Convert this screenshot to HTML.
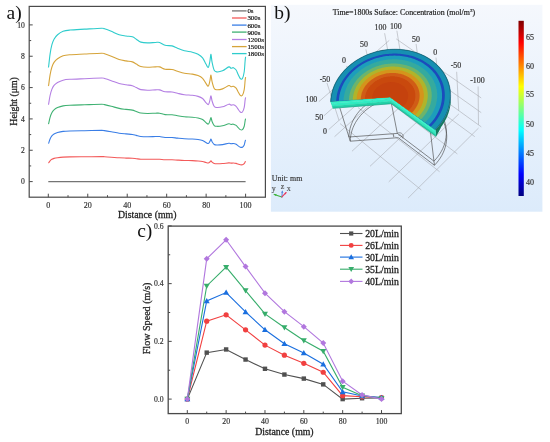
<!DOCTYPE html><html><head><meta charset="utf-8"><style>html,body{margin:0;padding:0;background:#fff;width:550px;height:442px;overflow:hidden}svg{display:block;will-change:transform}text{font-family:"Liberation Serif",serif}</style></head><body>
<svg width="550" height="442" viewBox="0 0 550 442">
<path d="M48.30,181.60 L245.60,181.60" fill="none" stroke="#747474" stroke-width="1.45"/>
<path d="M48.30,162.95 C48.37,162.92 48.40,163.11 48.69,162.75 C48.99,162.39 49.55,161.38 50.08,160.81 C50.60,160.24 51.19,159.73 51.85,159.33 C52.51,158.92 53.07,158.66 54.02,158.38 C54.98,158.11 56.06,157.88 57.57,157.67 C59.09,157.45 61.06,157.23 63.10,157.11 C65.14,156.98 66.22,156.96 69.81,156.90 C73.39,156.84 79.31,156.80 84.60,156.75 C89.90,156.70 98.25,156.60 101.57,156.59 C104.89,156.59 102.92,156.61 104.53,156.71 C106.14,156.80 108.81,156.99 111.24,157.18 C113.67,157.36 116.66,157.66 119.13,157.81 C121.60,157.96 123.83,158.01 126.04,158.08 C128.24,158.16 130.64,158.17 132.35,158.27 C134.06,158.37 134.88,158.54 136.30,158.69 C137.71,158.84 138.96,159.08 140.83,159.18 C142.71,159.28 145.11,159.30 147.54,159.31 C149.98,159.32 153.43,159.24 155.43,159.23 C157.44,159.22 157.97,159.16 159.58,159.23 C161.19,159.31 163.03,159.60 165.10,159.69 C167.17,159.78 169.94,159.69 172.01,159.76 C174.08,159.83 175.46,159.99 177.53,160.11 C179.60,160.23 181.97,160.38 184.44,160.47 C186.90,160.56 190.06,160.57 192.33,160.65 C194.60,160.73 196.34,160.80 198.05,160.94 C199.76,161.08 201.27,161.23 202.59,161.49 C203.90,161.75 204.99,162.23 205.94,162.48 C206.90,162.73 207.65,163.08 208.31,163.00 C208.97,162.91 209.44,162.34 209.89,161.99 C210.33,161.63 210.61,160.83 210.97,160.86 C211.34,160.89 211.52,161.70 212.06,162.14 C212.60,162.57 213.41,163.20 214.23,163.47 C215.05,163.73 215.61,163.71 216.99,163.72 C218.37,163.73 220.54,163.68 222.52,163.54 C224.49,163.41 227.42,162.97 228.83,162.90 C230.24,162.84 230.24,163.11 231.00,163.13 C231.76,163.15 232.51,162.98 233.37,163.03 C234.22,163.08 235.37,163.24 236.13,163.41 C236.89,163.58 237.21,163.82 237.91,164.05 C238.60,164.28 239.52,164.67 240.27,164.79 C241.03,164.92 241.79,164.98 242.44,164.79 C243.10,164.61 243.77,164.17 244.22,163.69 C244.66,163.22 244.88,162.34 245.11,161.93 C245.34,161.52 245.52,161.36 245.60,161.24" fill="none" stroke="#f35a5a" stroke-width="1.1" stroke-linejoin="round"/>
<path d="M48.30,143.39 C48.37,143.32 48.40,143.71 48.69,142.97 C48.99,142.24 49.55,140.17 50.08,139.00 C50.60,137.83 51.19,136.79 51.85,135.96 C52.51,135.13 53.07,134.59 54.02,134.02 C54.98,133.46 56.06,133.00 57.57,132.56 C59.09,132.12 61.06,131.67 63.10,131.41 C65.14,131.15 66.22,131.11 69.81,130.99 C73.39,130.87 79.31,130.78 84.60,130.68 C89.90,130.57 98.25,130.37 101.57,130.36 C104.89,130.35 102.92,130.38 104.53,130.61 C106.14,130.84 108.81,131.30 111.24,131.73 C113.67,132.17 116.66,132.85 119.13,133.21 C121.60,133.58 123.83,133.72 126.04,133.92 C128.24,134.13 130.64,134.20 132.35,134.45 C134.06,134.70 134.88,135.07 136.30,135.40 C137.71,135.73 138.96,136.21 140.83,136.43 C142.71,136.64 145.11,136.67 147.54,136.69 C149.98,136.71 153.43,136.56 155.43,136.53 C157.44,136.51 157.97,136.38 159.58,136.53 C161.19,136.69 163.03,137.31 165.10,137.48 C167.17,137.64 169.94,137.42 172.01,137.53 C174.08,137.65 175.46,137.95 177.53,138.16 C179.60,138.37 181.97,138.65 184.44,138.80 C186.90,138.95 190.06,138.92 192.33,139.05 C194.60,139.17 196.34,139.29 198.05,139.54 C199.76,139.79 201.27,140.06 202.59,140.56 C203.90,141.06 204.99,142.02 205.94,142.52 C206.90,143.01 207.65,143.70 208.31,143.52 C208.97,143.33 209.44,142.15 209.89,141.41 C210.33,140.68 210.61,139.05 210.97,139.10 C211.34,139.15 211.52,140.83 212.06,141.72 C212.60,142.61 213.41,143.90 214.23,144.44 C215.05,144.98 215.61,144.94 216.99,144.96 C218.37,144.99 220.54,144.88 222.52,144.60 C224.49,144.32 227.42,143.43 228.83,143.29 C230.24,143.15 230.24,143.72 231.00,143.76 C231.76,143.80 232.51,143.45 233.37,143.55 C234.22,143.65 235.37,143.99 236.13,144.34 C236.89,144.68 237.21,145.17 237.91,145.64 C238.60,146.11 239.52,146.91 240.27,147.16 C241.03,147.41 241.79,147.54 242.44,147.16 C243.10,146.79 243.77,145.89 244.22,144.91 C244.66,143.93 244.88,142.14 245.11,141.30 C245.34,140.46 245.52,140.12 245.60,139.89" fill="none" stroke="#3a7ee6" stroke-width="1.1" stroke-linejoin="round"/>
<path d="M48.30,123.95 C48.37,123.84 48.40,124.42 48.69,123.32 C48.99,122.21 49.55,119.08 50.08,117.31 C50.60,115.55 51.19,113.98 51.85,112.73 C52.51,111.48 53.07,110.67 54.02,109.81 C54.98,108.95 56.06,108.26 57.57,107.60 C59.09,106.94 61.06,106.26 63.10,105.86 C65.14,105.47 66.22,105.41 69.81,105.23 C73.39,105.05 79.31,104.91 84.60,104.76 C89.90,104.60 98.25,104.30 101.57,104.28 C104.89,104.26 102.92,104.32 104.53,104.65 C106.14,104.98 108.81,105.63 111.24,106.26 C113.67,106.88 116.66,107.88 119.13,108.40 C121.60,108.92 123.83,109.10 126.04,109.39 C128.24,109.67 130.64,109.75 132.35,110.11 C134.06,110.46 134.88,111.01 136.30,111.49 C137.71,111.98 138.96,112.71 140.83,113.03 C142.71,113.36 145.11,113.40 147.54,113.43 C149.98,113.46 153.43,113.23 155.43,113.19 C157.44,113.15 157.97,112.96 159.58,113.19 C161.19,113.43 163.03,114.36 165.10,114.61 C167.17,114.87 169.94,114.56 172.01,114.74 C174.08,114.93 175.46,115.40 177.53,115.74 C179.60,116.07 181.97,116.51 184.44,116.76 C186.90,117.00 190.06,116.99 192.33,117.19 C194.60,117.40 196.34,117.59 198.05,117.99 C199.76,118.39 201.27,118.82 202.59,119.58 C203.90,120.35 204.99,121.82 205.94,122.57 C206.90,123.33 207.65,124.38 208.31,124.11 C208.97,123.84 209.44,122.06 209.89,120.96 C210.33,119.85 210.61,117.39 210.97,117.47 C211.34,117.55 211.52,120.08 212.06,121.42 C212.60,122.76 213.41,124.71 214.23,125.53 C215.05,126.34 215.61,126.28 216.99,126.32 C218.37,126.36 220.54,126.18 222.52,125.76 C224.49,125.34 227.42,124.00 228.83,123.79 C230.24,123.58 230.24,124.43 231.00,124.50 C231.76,124.57 232.51,124.04 233.37,124.18 C234.22,124.33 235.37,124.84 236.13,125.37 C236.89,125.90 237.21,126.63 237.91,127.34 C238.60,128.05 239.52,129.25 240.27,129.63 C241.03,130.01 241.79,130.20 242.44,129.63 C243.10,129.07 243.77,127.71 244.22,126.24 C244.66,124.76 244.88,122.05 245.11,120.79 C245.34,119.52 245.52,119.01 245.60,118.66" fill="none" stroke="#3fb172" stroke-width="1.1" stroke-linejoin="round"/>
<path d="M48.30,104.39 C48.37,104.25 48.40,105.02 48.69,103.54 C48.99,102.06 49.55,97.86 50.08,95.50 C50.60,93.14 51.19,91.04 51.85,89.37 C52.51,87.69 53.07,86.60 54.02,85.45 C54.98,84.31 56.06,83.37 57.57,82.49 C59.09,81.61 61.06,80.69 63.10,80.16 C65.14,79.64 66.22,79.56 69.81,79.32 C73.39,79.07 79.31,78.89 84.60,78.68 C89.90,78.47 98.25,78.07 101.57,78.05 C104.89,78.02 102.92,78.10 104.53,78.54 C106.14,78.97 108.81,79.84 111.24,80.67 C113.67,81.50 116.66,82.82 119.13,83.51 C121.60,84.20 123.83,84.44 126.04,84.81 C128.24,85.18 130.64,85.29 132.35,85.75 C134.06,86.21 134.88,86.94 136.30,87.59 C137.71,88.25 138.96,89.22 140.83,89.66 C142.71,90.09 145.11,90.15 147.54,90.19 C149.98,90.22 153.43,89.92 155.43,89.87 C157.44,89.81 157.97,89.55 159.58,89.87 C161.19,90.19 163.03,91.42 165.10,91.77 C167.17,92.12 169.94,91.70 172.01,91.96 C174.08,92.21 175.46,92.84 177.53,93.30 C179.60,93.75 181.97,94.35 184.44,94.68 C186.90,95.02 190.06,95.00 192.33,95.28 C194.60,95.57 196.34,95.83 198.05,96.37 C199.76,96.91 201.27,97.49 202.59,98.52 C203.90,99.54 204.99,101.52 205.94,102.53 C206.90,103.55 207.65,104.96 208.31,104.60 C208.97,104.25 209.44,101.86 209.89,100.38 C210.33,98.90 210.61,95.61 210.97,95.71 C211.34,95.82 211.52,99.20 212.06,101.00 C212.60,102.80 213.41,105.41 214.23,106.50 C215.05,107.59 215.61,107.51 216.99,107.56 C218.37,107.61 220.54,107.38 222.52,106.82 C224.49,106.25 227.42,104.46 228.83,104.17 C230.24,103.89 230.24,105.04 231.00,105.13 C231.76,105.21 232.51,104.51 233.37,104.70 C234.22,104.90 235.37,105.58 236.13,106.29 C236.89,107.00 237.21,107.98 237.91,108.93 C238.60,109.89 239.52,111.49 240.27,112.00 C241.03,112.51 241.79,112.76 242.44,112.00 C243.10,111.24 243.77,109.43 244.22,107.45 C244.66,105.48 244.88,101.85 245.11,100.16 C245.34,98.46 245.52,97.78 245.60,97.30" fill="none" stroke="#b47fe3" stroke-width="1.1" stroke-linejoin="round"/>
<path d="M48.30,85.85 C48.37,85.68 48.40,86.64 48.69,84.81 C48.99,82.97 49.55,77.77 50.08,74.84 C50.60,71.91 51.19,69.31 51.85,67.23 C52.51,65.15 53.07,63.80 54.02,62.38 C54.98,60.96 56.06,59.80 57.57,58.71 C59.09,57.61 61.06,56.48 63.10,55.82 C65.14,55.16 66.22,55.08 69.81,54.77 C73.39,54.46 79.31,54.25 84.60,53.98 C89.90,53.72 98.25,53.23 101.57,53.20 C104.89,53.16 102.92,53.27 104.53,53.77 C106.14,54.27 108.81,55.26 111.24,56.22 C113.67,57.17 116.66,58.72 119.13,59.51 C121.60,60.29 123.83,60.51 126.04,60.91 C128.24,61.31 130.64,61.37 132.35,61.89 C134.06,62.42 134.88,63.28 136.30,64.06 C137.71,64.84 138.96,66.06 140.83,66.59 C142.71,67.12 145.11,67.21 147.54,67.25 C149.98,67.29 153.43,66.92 155.43,66.86 C157.44,66.79 157.97,66.46 159.58,66.86 C161.19,67.25 163.03,68.77 165.10,69.22 C167.17,69.67 169.94,69.20 172.01,69.55 C174.08,69.91 175.46,70.72 177.53,71.33 C179.60,71.93 181.97,72.73 184.44,73.19 C186.90,73.65 190.06,73.69 192.33,74.09 C194.60,74.49 196.34,74.86 198.05,75.57 C199.76,76.28 201.27,77.05 202.59,78.36 C203.90,79.67 204.99,82.15 205.94,83.44 C206.90,84.72 207.65,86.50 208.31,86.07 C208.97,85.65 209.44,82.71 209.89,80.88 C210.33,79.05 210.61,74.97 210.97,75.10 C211.34,75.23 211.52,79.43 212.06,81.66 C212.60,83.89 213.41,87.12 214.23,88.48 C215.05,89.83 215.61,89.72 216.99,89.79 C218.37,89.86 220.54,89.57 222.52,88.87 C224.49,88.17 227.42,85.94 228.83,85.59 C230.24,85.24 230.24,86.66 231.00,86.77 C231.76,86.88 232.51,86.01 233.37,86.25 C234.22,86.49 235.37,87.34 236.13,88.22 C236.89,89.09 237.21,90.31 237.91,91.49 C238.60,92.67 239.52,94.66 240.27,95.30 C241.03,95.93 241.79,96.24 242.44,95.30 C243.10,94.36 243.77,92.11 244.22,89.66 C244.66,87.21 244.88,82.71 245.11,80.61 C245.34,78.51 245.52,77.66 245.60,77.07" fill="none" stroke="#d6a43a" stroke-width="1.1" stroke-linejoin="round"/>
<path d="M48.30,67.21 C48.37,67.00 48.40,68.15 48.69,65.96 C48.99,63.76 49.55,57.55 50.08,54.05 C50.60,50.55 51.19,47.44 51.85,44.96 C52.51,42.48 53.07,40.86 54.02,39.16 C54.98,37.46 56.06,36.08 57.57,34.77 C59.09,33.47 61.06,32.11 63.10,31.32 C65.14,30.54 66.22,30.44 69.81,30.07 C73.39,29.71 79.31,29.44 84.60,29.13 C89.90,28.82 98.25,28.24 101.57,28.19 C104.89,28.14 102.92,28.30 104.53,28.82 C106.14,29.34 108.81,30.33 111.24,31.32 C113.67,32.32 116.66,33.99 119.13,34.77 C121.60,35.56 123.83,35.69 126.04,36.03 C128.24,36.37 130.64,36.29 132.35,36.81 C134.06,37.33 134.88,38.27 136.30,39.16 C137.71,40.05 138.96,41.51 140.83,42.14 C142.71,42.76 145.11,42.87 147.54,42.92 C149.98,42.97 153.43,42.53 155.43,42.45 C157.44,42.37 157.97,41.98 159.58,42.45 C161.19,42.92 163.03,44.70 165.10,45.27 C167.17,45.85 169.94,45.40 172.01,45.90 C174.08,46.39 175.46,47.44 177.53,48.25 C179.60,49.06 181.97,50.10 184.44,50.76 C186.90,51.41 190.06,51.59 192.33,52.17 C194.60,52.74 196.34,53.26 198.05,54.20 C199.76,55.14 201.27,56.16 202.59,57.81 C203.90,59.45 204.99,62.48 205.94,64.07 C206.90,65.67 207.65,67.84 208.31,67.37 C208.97,66.90 209.44,63.42 209.89,61.25 C210.33,59.09 210.61,54.20 210.97,54.36 C211.34,54.52 211.52,59.53 212.06,62.19 C212.60,64.86 213.41,68.72 214.23,70.34 C215.05,71.96 215.61,71.83 216.99,71.91 C218.37,71.99 220.54,71.65 222.52,70.81 C224.49,69.98 227.42,67.31 228.83,66.90 C230.24,66.48 230.24,68.18 231.00,68.31 C231.76,68.44 232.51,67.39 233.37,67.68 C234.22,67.97 235.37,68.98 236.13,70.03 C236.89,71.07 237.21,72.54 237.91,73.95 C238.60,75.36 239.52,77.73 240.27,78.49 C241.03,79.25 241.79,79.61 242.44,78.49 C243.10,77.37 243.77,74.68 244.22,71.75 C244.66,68.83 244.88,63.45 245.11,60.94 C245.34,58.43 245.52,57.42 245.60,56.71" fill="none" stroke="#2ecccc" stroke-width="1.1" stroke-linejoin="round"/>
<rect x="29.2" y="6.4" width="236.2" height="190.8" fill="none" stroke="#4a4a4a" stroke-width="1.2"/>
<path d="M29.2,181.60 h3.5 M29.2,165.93 h2.0 M29.2,150.26 h3.5 M29.2,134.59 h2.0 M29.2,118.92 h3.5 M29.2,103.25 h2.0 M29.2,87.58 h3.5 M29.2,71.91 h2.0 M29.2,56.24 h3.5 M29.2,40.57 h2.0 M29.2,24.90 h3.5 M48.30,197.2 v-3.5 M68.03,197.2 v-2.0 M87.76,197.2 v-3.5 M107.49,197.2 v-2.0 M127.22,197.2 v-3.5 M146.95,197.2 v-2.0 M166.68,197.2 v-3.5 M186.41,197.2 v-2.0 M206.14,197.2 v-3.5 M225.87,197.2 v-2.0 M245.60,197.2 v-3.5" stroke="#4a4a4a" stroke-width="1" fill="none"/>
<text x="24.8" y="184.20" font-size="7.6" text-anchor="end" fill="#333" stroke="#333" stroke-width="0.18">0</text>
<text x="24.8" y="152.86" font-size="7.6" text-anchor="end" fill="#333" stroke="#333" stroke-width="0.18">2</text>
<text x="24.8" y="121.52" font-size="7.6" text-anchor="end" fill="#333" stroke="#333" stroke-width="0.18">4</text>
<text x="24.8" y="90.18" font-size="7.6" text-anchor="end" fill="#333" stroke="#333" stroke-width="0.18">6</text>
<text x="24.8" y="58.84" font-size="7.6" text-anchor="end" fill="#333" stroke="#333" stroke-width="0.18">8</text>
<text x="24.8" y="27.50" font-size="7.6" text-anchor="end" fill="#333" stroke="#333" stroke-width="0.18">10</text>
<text x="48.30" y="207.7" font-size="8" text-anchor="middle" fill="#333" stroke="#333" stroke-width="0.18">0</text>
<text x="87.76" y="207.7" font-size="8" text-anchor="middle" fill="#333" stroke="#333" stroke-width="0.18">20</text>
<text x="127.22" y="207.7" font-size="8" text-anchor="middle" fill="#333" stroke="#333" stroke-width="0.18">40</text>
<text x="166.68" y="207.7" font-size="8" text-anchor="middle" fill="#333" stroke="#333" stroke-width="0.18">60</text>
<text x="206.14" y="207.7" font-size="8" text-anchor="middle" fill="#333" stroke="#333" stroke-width="0.18">80</text>
<text x="245.60" y="207.7" font-size="8" text-anchor="middle" fill="#333" stroke="#333" stroke-width="0.18">100</text>
<text x="147.2" y="217.5" font-size="9.8" text-anchor="middle" fill="#222" stroke="#222" stroke-width="0.28">Distance (mm)</text>
<text transform="translate(16.6,101.4) rotate(-90)" font-size="9.8" text-anchor="middle" fill="#222" stroke="#222" stroke-width="0.28">Height (μm)</text>
<text x="6.6" y="18.6" font-size="19.5" fill="#111">a)</text>
<line x1="232" y1="10.9" x2="246.6" y2="10.9" stroke="#747474" stroke-width="1.3"/>
<text x="247.4" y="13.3" font-size="6.9" fill="#111" stroke="#111" stroke-width="0.18">0s</text>
<line x1="232" y1="18.0" x2="246.6" y2="18.0" stroke="#f35a5a" stroke-width="1.3"/>
<text x="247.4" y="20.4" font-size="6.9" fill="#111" stroke="#111" stroke-width="0.18">300s</text>
<line x1="232" y1="25.1" x2="246.6" y2="25.1" stroke="#3a7ee6" stroke-width="1.3"/>
<text x="247.4" y="27.5" font-size="6.9" fill="#111" stroke="#111" stroke-width="0.18">600s</text>
<line x1="232" y1="32.1" x2="246.6" y2="32.1" stroke="#3fb172" stroke-width="1.3"/>
<text x="247.4" y="34.5" font-size="6.9" fill="#111" stroke="#111" stroke-width="0.18">900s</text>
<line x1="232" y1="39.5" x2="246.6" y2="39.5" stroke="#b47fe3" stroke-width="1.3"/>
<text x="247.4" y="41.9" font-size="6.9" fill="#111" stroke="#111" stroke-width="0.18">1200s</text>
<line x1="232" y1="46.6" x2="246.6" y2="46.6" stroke="#d6a43a" stroke-width="1.3"/>
<text x="247.4" y="49.0" font-size="6.9" fill="#111" stroke="#111" stroke-width="0.18">1500s</text>
<line x1="232" y1="53.6" x2="246.6" y2="53.6" stroke="#2ecccc" stroke-width="1.3"/>
<text x="247.4" y="56.0" font-size="6.9" fill="#111" stroke="#111" stroke-width="0.18">1800s</text>
<path d="M187.30,399.10 L206.72,352.62 L226.14,349.45 L245.56,359.55 L264.98,368.79 L284.40,374.56 L303.82,378.60 L323.24,384.38 L342.66,399.10 L362.08,398.23 L381.50,397.95" fill="none" stroke="#505050" stroke-width="1.1"/>
<path d="M187.30,399.10 L206.72,321.16 L226.14,314.81 L245.56,329.82 L264.98,345.12 L284.40,355.22 L303.82,363.31 L323.24,372.25 L342.66,395.64 L362.08,396.79 L381.50,397.66" fill="none" stroke="#f14040" stroke-width="1.1"/>
<path d="M187.30,399.10 L206.72,300.95 L226.14,292.58 L245.56,311.92 L264.98,329.82 L284.40,343.68 L303.82,352.91 L323.24,364.17 L342.66,391.88 L362.08,395.92 L381.50,397.66" fill="none" stroke="#1a6fdf" stroke-width="1.1"/>
<path d="M187.30,399.10 L206.72,285.94 L226.14,267.18 L245.56,290.56 L264.98,313.94 L284.40,327.51 L303.82,340.50 L323.24,351.18 L342.66,387.26 L362.08,395.64 L381.50,398.23" fill="none" stroke="#37ad6b" stroke-width="1.1"/>
<path d="M187.30,399.10 L206.72,258.81 L226.14,239.76 L245.56,266.60 L264.98,293.16 L284.40,311.63 L303.82,326.64 L323.24,343.10 L342.66,381.20 L362.08,394.91 L381.50,399.10" fill="none" stroke="#b177de" stroke-width="1.1"/>
<rect x="185.10" y="396.90" width="4.40" height="4.40" fill="#505050"/>
<rect x="204.52" y="350.42" width="4.40" height="4.40" fill="#505050"/>
<rect x="223.94" y="347.25" width="4.40" height="4.40" fill="#505050"/>
<rect x="243.36" y="357.35" width="4.40" height="4.40" fill="#505050"/>
<rect x="262.78" y="366.59" width="4.40" height="4.40" fill="#505050"/>
<rect x="282.20" y="372.36" width="4.40" height="4.40" fill="#505050"/>
<rect x="301.62" y="376.40" width="4.40" height="4.40" fill="#505050"/>
<rect x="321.04" y="382.18" width="4.40" height="4.40" fill="#505050"/>
<rect x="340.46" y="396.90" width="4.40" height="4.40" fill="#505050"/>
<rect x="359.88" y="396.03" width="4.40" height="4.40" fill="#505050"/>
<rect x="379.30" y="395.75" width="4.40" height="4.40" fill="#505050"/>
<circle cx="187.30" cy="399.10" r="2.60" fill="#f14040"/>
<circle cx="206.72" cy="321.16" r="2.60" fill="#f14040"/>
<circle cx="226.14" cy="314.81" r="2.60" fill="#f14040"/>
<circle cx="245.56" cy="329.82" r="2.60" fill="#f14040"/>
<circle cx="264.98" cy="345.12" r="2.60" fill="#f14040"/>
<circle cx="284.40" cy="355.22" r="2.60" fill="#f14040"/>
<circle cx="303.82" cy="363.31" r="2.60" fill="#f14040"/>
<circle cx="323.24" cy="372.25" r="2.60" fill="#f14040"/>
<circle cx="342.66" cy="395.64" r="2.60" fill="#f14040"/>
<circle cx="362.08" cy="396.79" r="2.60" fill="#f14040"/>
<circle cx="381.50" cy="397.66" r="2.60" fill="#f14040"/>
<path d="M187.30,396.10 L190.30,401.35 L184.30,401.35 Z" fill="#1a6fdf"/>
<path d="M206.72,297.95 L209.72,303.20 L203.72,303.20 Z" fill="#1a6fdf"/>
<path d="M226.14,289.58 L229.14,294.83 L223.14,294.83 Z" fill="#1a6fdf"/>
<path d="M245.56,308.92 L248.56,314.17 L242.56,314.17 Z" fill="#1a6fdf"/>
<path d="M264.98,326.82 L267.98,332.07 L261.98,332.07 Z" fill="#1a6fdf"/>
<path d="M284.40,340.68 L287.40,345.93 L281.40,345.93 Z" fill="#1a6fdf"/>
<path d="M303.82,349.91 L306.82,355.16 L300.82,355.16 Z" fill="#1a6fdf"/>
<path d="M323.24,361.17 L326.24,366.42 L320.24,366.42 Z" fill="#1a6fdf"/>
<path d="M342.66,388.88 L345.66,394.13 L339.66,394.13 Z" fill="#1a6fdf"/>
<path d="M362.08,392.92 L365.08,398.17 L359.08,398.17 Z" fill="#1a6fdf"/>
<path d="M381.50,394.66 L384.50,399.91 L378.50,399.91 Z" fill="#1a6fdf"/>
<path d="M187.30,402.10 L190.30,396.85 L184.30,396.85 Z" fill="#37ad6b"/>
<path d="M206.72,288.94 L209.72,283.69 L203.72,283.69 Z" fill="#37ad6b"/>
<path d="M226.14,270.18 L229.14,264.93 L223.14,264.93 Z" fill="#37ad6b"/>
<path d="M245.56,293.56 L248.56,288.31 L242.56,288.31 Z" fill="#37ad6b"/>
<path d="M264.98,316.94 L267.98,311.69 L261.98,311.69 Z" fill="#37ad6b"/>
<path d="M284.40,330.51 L287.40,325.26 L281.40,325.26 Z" fill="#37ad6b"/>
<path d="M303.82,343.50 L306.82,338.25 L300.82,338.25 Z" fill="#37ad6b"/>
<path d="M323.24,354.18 L326.24,348.93 L320.24,348.93 Z" fill="#37ad6b"/>
<path d="M342.66,390.26 L345.66,385.01 L339.66,385.01 Z" fill="#37ad6b"/>
<path d="M362.08,398.64 L365.08,393.39 L359.08,393.39 Z" fill="#37ad6b"/>
<path d="M381.50,401.23 L384.50,395.98 L378.50,395.98 Z" fill="#37ad6b"/>
<path d="M187.30,396.10 L190.30,399.10 L187.30,402.10 L184.30,399.10 Z" fill="#b177de"/>
<path d="M206.72,255.81 L209.72,258.81 L206.72,261.81 L203.72,258.81 Z" fill="#b177de"/>
<path d="M226.14,236.76 L229.14,239.76 L226.14,242.76 L223.14,239.76 Z" fill="#b177de"/>
<path d="M245.56,263.60 L248.56,266.60 L245.56,269.60 L242.56,266.60 Z" fill="#b177de"/>
<path d="M264.98,290.16 L267.98,293.16 L264.98,296.16 L261.98,293.16 Z" fill="#b177de"/>
<path d="M284.40,308.63 L287.40,311.63 L284.40,314.63 L281.40,311.63 Z" fill="#b177de"/>
<path d="M303.82,323.64 L306.82,326.64 L303.82,329.64 L300.82,326.64 Z" fill="#b177de"/>
<path d="M323.24,340.10 L326.24,343.10 L323.24,346.10 L320.24,343.10 Z" fill="#b177de"/>
<path d="M342.66,378.20 L345.66,381.20 L342.66,384.20 L339.66,381.20 Z" fill="#b177de"/>
<path d="M362.08,391.91 L365.08,394.91 L362.08,397.91 L359.08,394.91 Z" fill="#b177de"/>
<path d="M381.50,396.10 L384.50,399.10 L381.50,402.10 L378.50,399.10 Z" fill="#b177de"/>
<rect x="168.2" y="226.1" width="233.1" height="187.5" fill="none" stroke="#4a4a4a" stroke-width="1.3"/>
<path d="M168.2,399.10 h3.5 M168.2,370.23 h2.0 M168.2,341.37 h3.5 M168.2,312.50 h2.0 M168.2,283.63 h3.5 M168.2,254.77 h2.0 M168.2,225.90 h3.5 M187.30,413.6 v-3.5 M206.72,413.6 v-2.0 M226.14,413.6 v-3.5 M245.56,413.6 v-2.0 M264.98,413.6 v-3.5 M284.40,413.6 v-2.0 M303.82,413.6 v-3.5 M323.24,413.6 v-2.0 M342.66,413.6 v-3.5 M362.08,413.6 v-2.0 M381.50,413.6 v-3.5" stroke="#4a4a4a" stroke-width="1" fill="none"/>
<text x="163.6" y="401.70" font-size="7.7" text-anchor="end" fill="#333" stroke="#333" stroke-width="0.18">0.0</text>
<text x="163.6" y="343.97" font-size="7.7" text-anchor="end" fill="#333" stroke="#333" stroke-width="0.18">0.2</text>
<text x="163.6" y="286.23" font-size="7.7" text-anchor="end" fill="#333" stroke="#333" stroke-width="0.18">0.4</text>
<text x="163.6" y="228.50" font-size="7.7" text-anchor="end" fill="#333" stroke="#333" stroke-width="0.18">0.6</text>
<text x="187.30" y="424.2" font-size="7.8" text-anchor="middle" fill="#333" stroke="#333" stroke-width="0.18">0</text>
<text x="226.14" y="424.2" font-size="7.8" text-anchor="middle" fill="#333" stroke="#333" stroke-width="0.18">20</text>
<text x="264.98" y="424.2" font-size="7.8" text-anchor="middle" fill="#333" stroke="#333" stroke-width="0.18">40</text>
<text x="303.82" y="424.2" font-size="7.8" text-anchor="middle" fill="#333" stroke="#333" stroke-width="0.18">60</text>
<text x="342.66" y="424.2" font-size="7.8" text-anchor="middle" fill="#333" stroke="#333" stroke-width="0.18">80</text>
<text x="381.50" y="424.2" font-size="7.8" text-anchor="middle" fill="#333" stroke="#333" stroke-width="0.18">100</text>
<text x="284.4" y="434.9" font-size="9.8" text-anchor="middle" fill="#222" stroke="#222" stroke-width="0.28">Distance (mm)</text>
<text transform="translate(150,318.4) rotate(-90)" font-size="10.1" text-anchor="middle" fill="#222" stroke="#222" stroke-width="0.28">Flow Speed (m/s)</text>
<text x="137.2" y="236.6" font-size="19.5" fill="#111">c)</text>
<line x1="340" y1="233.5" x2="362.5" y2="233.5" stroke="#505050" stroke-width="1.1"/>
<rect x="349.11" y="231.41" width="4.18" height="4.18" fill="#505050"/>
<text x="365.2" y="236.9" font-size="9.8" fill="#222" stroke="#222" stroke-width="0.28">20L/min</text>
<line x1="340" y1="245.4" x2="362.5" y2="245.4" stroke="#f14040" stroke-width="1.1"/>
<circle cx="351.20" cy="245.40" r="2.47" fill="#f14040"/>
<text x="365.2" y="248.8" font-size="9.8" fill="#222" stroke="#222" stroke-width="0.28">26L/min</text>
<line x1="340" y1="257.1" x2="362.5" y2="257.1" stroke="#1a6fdf" stroke-width="1.1"/>
<path d="M351.20,254.25 L354.05,259.24 L348.35,259.24 Z" fill="#1a6fdf"/>
<text x="365.2" y="260.5" font-size="9.8" fill="#222" stroke="#222" stroke-width="0.28">30L/min</text>
<line x1="340" y1="269.2" x2="362.5" y2="269.2" stroke="#37ad6b" stroke-width="1.1"/>
<path d="M351.20,272.05 L354.05,267.06 L348.35,267.06 Z" fill="#37ad6b"/>
<text x="365.2" y="272.6" font-size="9.8" fill="#222" stroke="#222" stroke-width="0.28">35L/min</text>
<line x1="340" y1="281.4" x2="362.5" y2="281.4" stroke="#b177de" stroke-width="1.1"/>
<path d="M351.20,278.55 L354.05,281.40 L351.20,284.25 L348.35,281.40 Z" fill="#b177de"/>
<text x="365.2" y="284.8" font-size="9.8" fill="#222" stroke="#222" stroke-width="0.28">40L/min</text>
<defs><linearGradient id="bgb" x1="0" y1="0" x2="0" y2="1"><stop offset="0" stop-color="#f5f8fd"/><stop offset="1" stop-color="#dcebfb"/></linearGradient>
<linearGradient id="cbar" x1="0" y1="0" x2="0" y2="1"><stop offset="0" stop-color="#7f0000"/><stop offset="0.125" stop-color="#ff0000"/><stop offset="0.25" stop-color="#ff8000"/><stop offset="0.375" stop-color="#ffff00"/><stop offset="0.5" stop-color="#80ff80"/><stop offset="0.625" stop-color="#00ffff"/><stop offset="0.75" stop-color="#0080ff"/><stop offset="0.875" stop-color="#0000ff"/><stop offset="1" stop-color="#00007f"/></linearGradient>
<filter id="soft" x="-5%" y="-5%" width="110%" height="110%"><feGaussianBlur stdDeviation="0.45"/></filter><clipPath id="cpb"><rect x="270.9" y="4.8" width="271.5" height="206.9"/></clipPath></defs>
<rect x="270.9" y="4.8" width="271.5" height="206.9" fill="url(#bgb)"/>
<g clip-path="url(#cpb)">
<polyline points="421.30,189.98 340.05,123.58" fill="none" stroke="#a3a6aa" stroke-width="0.55" />
<polyline points="439.59,171.74 357.98,107.49" fill="none" stroke="#a3a6aa" stroke-width="0.55" />
<polyline points="457.40,153.98 375.49,91.78" fill="none" stroke="#a3a6aa" stroke-width="0.55" />
<polyline points="474.75,136.67 392.57,76.46" fill="none" stroke="#a3a6aa" stroke-width="0.55" />
<polyline points="408.08,198.10 478.51,128.10" fill="none" stroke="#a3a6aa" stroke-width="0.55" />
<polyline points="388.70,181.92 458.89,113.92" fill="none" stroke="#a3a6aa" stroke-width="0.55" />
<polyline points="370.01,166.32 439.93,100.22" fill="none" stroke="#a3a6aa" stroke-width="0.55" />
<polyline points="351.97,151.26 421.59,86.96" fill="none" stroke="#a3a6aa" stroke-width="0.55" />
<polyline points="334.53,136.71 403.85,74.14" fill="none" stroke="#a3a6aa" stroke-width="0.55" />
<polyline points="339.01,120.36 326.94,82.93" fill="none" stroke="#a3a6aa" stroke-width="0.55" />
<polyline points="357.09,104.20 346.67,65.93" fill="none" stroke="#a3a6aa" stroke-width="0.55" />
<polyline points="374.73,88.42 365.89,49.36" fill="none" stroke="#a3a6aa" stroke-width="0.55" />
<polyline points="391.94,73.03 384.61,33.23" fill="none" stroke="#a3a6aa" stroke-width="0.55" />
<polyline points="328.69,129.59 398.45,67.21" fill="none" stroke="#a3a6aa" stroke-width="0.55" />
<polyline points="323.85,115.87 395.93,52.29" fill="none" stroke="#a3a6aa" stroke-width="0.55" />
<polyline points="318.83,101.66 389.29,40.39" fill="none" stroke="#a3a6aa" stroke-width="0.55" />
<polyline points="478.48,124.82 478.12,86.51" fill="none" stroke="#a3a6aa" stroke-width="0.55" />
<polyline points="458.71,110.59 456.67,71.78" fill="none" stroke="#a3a6aa" stroke-width="0.55" />
<polyline points="439.62,96.85 436.02,57.59" fill="none" stroke="#a3a6aa" stroke-width="0.55" />
<polyline points="421.16,83.55 416.10,43.91" fill="none" stroke="#a3a6aa" stroke-width="0.55" />
<polyline points="403.30,70.70 396.89,30.72" fill="none" stroke="#a3a6aa" stroke-width="0.55" />
<polyline points="481.30,126.86 398.45,67.21" fill="none" stroke="#a3a6aa" stroke-width="0.55" />
<polyline points="481.26,112.67 395.93,52.29" fill="none" stroke="#a3a6aa" stroke-width="0.55" />
<polyline points="481.21,97.95 396.23,38.89" fill="none" stroke="#a3a6aa" stroke-width="0.55" />
<polyline points="433.96,161.16 436.10,158.84 438.05,156.41 439.82,153.89 441.38,151.28 442.74,148.61 443.88,145.88 444.82,143.10 445.53,140.30 446.02,137.47 446.30,134.65 446.36,131.83 446.19,129.04 445.82,126.28 445.23,123.57 444.43,120.91 443.43,118.33 442.23,115.82 440.84,113.40 439.27,111.09 437.53,108.88 435.62,106.79 433.55,104.82 431.34,102.99 428.99,101.29 426.51,99.74 423.92,98.34 421.22,97.10 418.43,96.01 415.56,95.09 412.62,94.34 409.62,93.75 406.57,93.33 403.49,93.08 400.39,93.01 397.28,93.11 394.17,93.38 391.08,93.81 388.02,94.42 384.99,95.19 382.01,96.12 379.10,97.22 376.26,98.47 373.51,99.87 370.85,101.41 368.30,103.10 365.87,104.91 363.56,106.86 361.39,108.92 359.37,111.10 357.51,113.38 355.81,115.76 354.28,118.22 352.93,120.76 351.76,123.36 350.79,126.02 350.02,128.73 349.45,131.47 349.09,134.23 348.94,137.00" fill="none" stroke="#4a4a4a" stroke-width="0.65" />
<polyline points="348.94,137.00 397.32,133.41 433.96,161.16" fill="none" stroke="#4a4a4a" stroke-width="0.65" />
<polyline points="434.45,165.28 436.57,162.98 438.50,160.56 440.25,158.06 441.80,155.47 443.14,152.81 444.27,150.10 445.19,147.34 445.90,144.55 446.39,141.75 446.66,138.94 446.72,136.14 446.55,133.36 446.18,130.62 445.59,127.92 444.80,125.28 443.81,122.71 442.63,120.22 441.25,117.81 439.70,115.51 437.97,113.31 436.08,111.23 434.03,109.27 431.83,107.44 429.51,105.76 427.05,104.21 424.48,102.82 421.81,101.58 419.04,100.50 416.20,99.58 413.28,98.82 410.31,98.24 407.29,97.82 404.24,97.57 401.17,97.49 398.09,97.59 395.01,97.85 391.95,98.28 388.91,98.88 385.92,99.65 382.97,100.58 380.08,101.66 377.27,102.90 374.54,104.29 371.91,105.83 369.39,107.50 366.98,109.31 364.70,111.24 362.55,113.29 360.55,115.45 358.71,117.72 357.03,120.08 355.51,122.53 354.18,125.05 353.03,127.64 352.07,130.29 351.31,132.98 350.75,135.70 350.40,138.45 350.25,141.20" fill="none" stroke="#4a4a4a" stroke-width="0.65" />
<polyline points="350.25,141.20 398.16,137.67 434.45,165.28" fill="none" stroke="#4a4a4a" stroke-width="0.65" />
<polyline points="339.80,107.72 348.94,137.00" fill="none" stroke="#4a4a4a" stroke-width="0.65" />
<polyline points="348.94,137.00 350.25,141.20" fill="none" stroke="#4a4a4a" stroke-width="0.65" />
<polyline points="430.49,132.37 433.96,161.16" fill="none" stroke="#4a4a4a" stroke-width="0.65" />
<polyline points="433.96,161.16 434.45,165.28" fill="none" stroke="#4a4a4a" stroke-width="0.65" />
<polyline points="391.45,103.70 397.32,133.41" fill="none" stroke="#4a4a4a" stroke-width="0.65" />
<g transform="translate(-1.08,-0.19)"><path d="M398.4,133.6 C400.5,132.2 403.6,133.2 404.3,135.8 L403.9,138.6 M399.8,135.6 C401.2,134.8 402.9,135.6 403.2,137.4 M394.6,134.2 L394.6,137.4" fill="none" stroke="#555" stroke-width="0.6"/></g>
<polygon points="435.32,129.84 436.33,128.82 437.31,127.77 438.26,126.70 439.18,125.62 440.06,124.52 440.91,123.41 441.73,122.28 442.52,121.14 443.26,119.98 443.98,118.81 444.66,117.63 445.30,116.44 445.91,115.24 446.48,114.04 447.02,112.82 447.52,111.59 447.98,110.36 448.40,109.13 448.79,107.89 449.14,106.64 449.45,105.39 449.73,104.14 449.96,102.89 450.16,101.64 450.33,100.38 450.45,99.13 450.54,97.88 450.59,96.63 450.60,95.39 450.58,94.15 450.52,92.91 450.42,91.68 450.28,90.45 450.11,89.24 449.90,88.03 449.66,86.82 449.38,85.63 449.07,84.45 448.72,83.28 448.33,82.11 447.92,80.97 447.46,79.83 446.98,78.70 446.46,77.59 445.91,76.50 445.32,75.42 444.71,74.35 444.06,73.30 443.38,72.27 442.67,71.25 441.93,70.25 441.17,69.27 440.37,68.31 439.55,67.37 438.69,66.45 437.81,65.55 436.91,64.66 435.98,63.80 435.02,62.96 434.04,62.15 433.03,61.35 432.01,60.58 430.95,59.83 429.88,59.10 428.79,58.40 427.67,57.72 426.53,57.07 425.38,56.44 424.21,55.83 423.01,55.25 421.80,54.70 420.58,54.17 419.34,53.67 418.08,53.19 416.81,52.74 415.52,52.32 414.22,51.92 412.91,51.55 411.59,51.20 410.26,50.89 408.91,50.60 407.56,50.33 406.20,50.10 404.83,49.89 403.45,49.71 402.07,49.56 400.68,49.43 399.28,49.34 397.89,49.27 396.48,49.22 395.08,49.21 393.67,49.22 392.26,49.27 390.85,49.33 389.45,49.43 388.04,49.55 386.63,49.71 385.23,49.88 383.83,50.09 382.43,50.32 381.04,50.58 379.65,50.87 378.27,51.18 376.89,51.52 375.53,51.89 374.17,52.28 372.82,52.70 371.48,53.14 370.15,53.61 368.83,54.10 367.52,54.62 366.22,55.17 364.94,55.74 363.67,56.33 362.42,56.95 361.18,57.59 359.96,58.26 358.75,58.94 357.56,59.65 356.39,60.39 355.23,61.14 354.10,61.92 352.98,62.72 351.89,63.53 350.82,64.37 349.76,65.23 348.73,66.11 347.73,67.01 346.74,67.93 345.78,68.86 344.85,69.82 343.94,70.79 343.05,71.77 342.19,72.78 341.36,73.80 340.56,74.83 339.78,75.88 339.03,76.95 338.31,78.03 337.62,79.12 336.96,80.22 336.33,81.34 335.73,82.47 335.16,83.61 334.62,84.76 334.12,85.91 333.65,87.08 333.20,88.26 332.80,89.44 332.42,90.63 332.08,91.83 331.77,93.03 331.50,94.24 331.26,95.46 331.06,96.67 330.89,97.89 330.76,99.11 330.66,100.34 330.60,101.56 331.71,104.94 331.77,103.72 331.86,102.50 331.99,101.28 332.16,100.07 332.36,98.86 332.59,97.65 332.86,96.45 333.17,95.25 333.50,94.05 333.88,92.87 334.28,91.69 334.72,90.52 335.18,89.35 335.68,88.20 336.22,87.06 336.78,85.92 337.38,84.80 338.00,83.69 338.66,82.59 339.34,81.50 340.05,80.42 340.80,79.36 341.57,78.32 342.37,77.29 343.19,76.27 344.04,75.27 344.92,74.29 345.82,73.32 346.75,72.37 347.70,71.44 348.68,70.53 349.68,69.63 350.70,68.76 351.74,67.90 352.81,67.07 353.90,66.25 355.00,65.46 356.13,64.68 357.27,63.93 358.44,63.20 359.62,62.50 360.82,61.81 362.03,61.15 363.26,60.51 364.51,59.90 365.77,59.31 367.04,58.74 368.32,58.20 369.62,57.68 370.93,57.19 372.25,56.72 373.58,56.28 374.93,55.87 376.28,55.48 377.63,55.11 379.00,54.77 380.37,54.46 381.75,54.18 383.13,53.92 384.52,53.69 385.91,53.49 387.30,53.31 388.70,53.16 390.10,53.04 391.50,52.94 392.90,52.87 394.29,52.83 395.69,52.82 397.09,52.84 398.48,52.88 399.87,52.95 401.25,53.05 402.63,53.17 404.01,53.33 405.37,53.51 406.73,53.72 408.09,53.95 409.43,54.21 410.77,54.50 412.09,54.82 413.40,55.16 414.71,55.53 415.99,55.93 417.27,56.36 418.53,56.81 419.78,57.28 421.02,57.78 422.23,58.31 423.44,58.87 424.62,59.44 425.78,60.05 426.93,60.68 428.06,61.33 429.17,62.01 430.26,62.71 431.32,63.43 432.37,64.18 433.39,64.95 434.39,65.74 435.36,66.56 436.31,67.40 437.24,68.25 438.14,69.13 439.01,70.03 439.86,70.95 440.67,71.89 441.47,72.85 442.23,73.83 442.96,74.82 443.66,75.83 444.34,76.86 444.98,77.91 445.59,78.97 446.17,80.05 446.72,81.14 447.24,82.25 447.72,83.37 448.17,84.50 448.58,85.65 448.97,86.80 449.31,87.97 449.63,89.15 449.90,90.34 450.14,91.54 450.35,92.74 450.52,93.96 450.66,95.18 450.75,96.40 450.81,97.63 450.84,98.87 450.83,100.11 450.78,101.35 450.69,102.60 450.57,103.85 450.41,105.09 450.21,106.34 449.97,107.59 449.70,108.83 449.39,110.08 449.04,111.32 448.66,112.55 448.24,113.78 447.78,115.01 447.28,116.23 446.75,117.44 446.19,118.64 445.58,119.84 444.95,121.02 444.27,122.19 443.56,123.36 442.82,124.51 442.04,125.64 441.23,126.81 440.44,128.47 439.62,130.10 438.77,131.72 437.89,133.32 436.98,134.89 436.04,136.45" fill="#137a5e" />
<polygon points="390.11,96.88 330.60,101.56 331.27,103.59 390.52,98.95" fill="#36eec6" stroke="#36eec6" stroke-width="0.3"/>
<polygon points="390.52,98.95 331.27,103.59 332.04,105.94 390.99,101.34" fill="#30ecc2" stroke="#30ecc2" stroke-width="0.3"/>
<polygon points="390.99,101.34 332.04,105.94 332.80,108.27 391.45,103.70" fill="#22d2a8" stroke="#22d2a8" stroke-width="0.3"/>
<polyline points="391.45,103.70 332.80,108.27" fill="none" stroke="#179a80" stroke-width="0.6" />
<polyline points="390.11,96.88 330.60,101.56" fill="none" stroke="#1d8a7a" stroke-width="0.5" />
<polygon points="390.11,96.88 435.32,129.84 435.54,131.85 390.52,98.95" fill="#36eec6" stroke="#36eec6" stroke-width="0.3"/>
<polygon points="390.52,98.95 435.54,131.85 435.79,134.16 390.99,101.34" fill="#30ecc2" stroke="#30ecc2" stroke-width="0.3"/>
<polygon points="390.99,101.34 435.79,134.16 436.04,136.45 391.45,103.70" fill="#22d2a8" stroke="#22d2a8" stroke-width="0.3"/>
<polyline points="391.45,103.70 436.04,136.45" fill="none" stroke="#179a80" stroke-width="0.6" />
<polyline points="390.11,96.88 435.32,129.84" fill="none" stroke="#1d8a7a" stroke-width="0.5" />
<g filter="url(#soft)">
<polygon points="390.11,96.88 435.32,129.84 436.67,128.47 437.95,127.05 439.19,125.61 440.36,124.14 441.47,122.64 442.53,121.12 443.52,119.57 444.45,118.00 445.32,116.41 446.12,114.81 446.86,113.19 447.53,111.55 448.14,109.91 448.68,108.25 449.15,106.59 449.56,104.92 449.90,103.25 450.17,101.57 450.38,99.90 450.52,98.23 450.59,96.56 450.60,94.90 450.54,93.24 450.41,91.60 450.22,89.96 449.96,88.34 449.64,86.73 449.26,85.14 448.81,83.57 448.30,82.02 447.73,80.49 447.10,78.98 446.41,77.49 445.66,76.03 444.85,74.60 443.99,73.20 443.07,71.82 442.10,70.48 441.08,69.17 440.01,67.89 438.88,66.65 437.71,65.44 436.49,64.27 435.22,63.14 433.91,62.05 432.56,60.99 431.17,59.98 429.73,59.01 428.26,58.08 426.76,57.19 425.21,56.35 423.64,55.55 422.03,54.80 420.39,54.09 418.73,53.43 417.03,52.82 415.32,52.25 413.57,51.73 411.81,51.26 410.03,50.84 408.23,50.46 406.42,50.13 404.59,49.86 402.74,49.63 400.89,49.45 399.03,49.32 397.16,49.24 395.28,49.21 393.40,49.23 391.52,49.30 389.64,49.42 387.75,49.58 385.88,49.80 384.00,50.06 382.14,50.37 380.28,50.73 378.43,51.14 376.59,51.60 374.77,52.10 372.96,52.65 371.17,53.24 369.40,53.89 367.65,54.57 365.92,55.30 364.22,56.07 362.53,56.89 360.88,57.75 359.25,58.65 357.66,59.59 356.10,60.57 354.56,61.59 353.07,62.65 351.61,63.75 350.19,64.88 348.80,66.05 347.46,67.25 346.16,68.49 344.90,69.76 343.69,71.06 342.52,72.39 341.40,73.75 340.33,75.13 339.31,76.54 338.34,77.98 337.43,79.44 336.56,80.93 335.75,82.43 335.00,83.95 334.30,85.49 333.66,87.05 333.07,88.63 332.55,90.21 332.09,91.81 331.68,93.42 331.34,95.04 331.06,96.66 330.85,98.29 330.69,99.93 330.60,101.56" fill="#16708a" />
<polygon points="390.11,96.88 434.76,129.43 436.08,128.07 437.36,126.68 438.57,125.25 439.73,123.80 440.84,122.32 441.88,120.82 442.86,119.29 443.78,117.74 444.64,116.17 445.43,114.59 446.16,112.99 446.82,111.37 447.43,109.75 447.96,108.11 448.43,106.47 448.83,104.82 449.17,103.17 449.44,101.52 449.65,99.86 449.78,98.21 449.86,96.56 449.86,94.92 449.81,93.29 449.68,91.66 449.49,90.05 449.24,88.44 448.93,86.86 448.55,85.28 448.11,83.73 447.60,82.20 447.04,80.68 446.42,79.19 445.74,77.72 445.00,76.28 444.20,74.86 443.35,73.48 442.45,72.12 441.49,70.79 440.48,69.50 439.42,68.23 438.31,67.00 437.15,65.81 435.95,64.65 434.70,63.53 433.40,62.45 432.07,61.41 430.69,60.41 429.27,59.45 427.82,58.53 426.33,57.65 424.81,56.82 423.25,56.03 421.66,55.29 420.04,54.59 418.39,53.93 416.72,53.33 415.02,52.76 413.30,52.25 411.56,51.78 409.80,51.36 408.02,50.99 406.23,50.67 404.42,50.40 402.60,50.17 400.77,49.99 398.92,49.87 397.08,49.79 395.22,49.76 393.36,49.78 391.50,49.84 389.64,49.96 387.78,50.12 385.92,50.34 384.07,50.60 382.23,50.91 380.39,51.26 378.56,51.67 376.75,52.12 374.95,52.61 373.16,53.16 371.39,53.74 369.64,54.38 367.91,55.06 366.20,55.78 364.51,56.54 362.85,57.35 361.22,58.20 359.61,59.09 358.03,60.02 356.49,60.99 354.97,62.00 353.49,63.05 352.05,64.13 350.65,65.25 349.28,66.41 347.95,67.60 346.67,68.82 345.43,70.07 344.23,71.36 343.08,72.67 341.97,74.01 340.91,75.39 339.90,76.78 338.95,78.20 338.04,79.65 337.19,81.11 336.39,82.60 335.64,84.10 334.95,85.63 334.32,87.17 333.75,88.72 333.23,90.29 332.77,91.87 332.37,93.46 332.04,95.06 331.76,96.66 331.55,98.27 331.40,99.89 331.31,101.51" fill="#1990b2" />
<polygon points="390.11,96.88 430.87,126.60 432.08,125.36 433.25,124.09 434.36,122.79 435.43,121.46 436.44,120.12 437.39,118.74 438.30,117.35 439.14,115.94 439.93,114.51 440.66,113.06 441.33,111.60 441.95,110.13 442.50,108.64 443.00,107.15 443.44,105.65 443.81,104.14 444.13,102.63 444.38,101.12 444.58,99.61 444.71,98.10 444.79,96.59 444.80,95.09 444.75,93.59 444.65,92.10 444.48,90.62 444.26,89.15 443.98,87.70 443.64,86.26 443.24,84.83 442.79,83.43 442.28,82.04 441.72,80.67 441.10,79.32 440.43,78.00 439.71,76.70 438.93,75.42 438.11,74.17 437.24,72.95 436.32,71.76 435.35,70.60 434.33,69.47 433.28,68.37 432.18,67.30 431.03,66.27 429.85,65.28 428.63,64.32 427.37,63.39 426.07,62.51 424.74,61.66 423.38,60.85 421.98,60.08 420.55,59.36 419.09,58.67 417.61,58.02 416.10,57.42 414.56,56.86 413.01,56.34 411.43,55.86 409.83,55.43 408.21,55.04 406.58,54.70 404.93,54.40 403.27,54.15 401.59,53.94 399.91,53.77 398.21,53.65 396.51,53.58 394.81,53.55 393.10,53.57 391.39,53.63 389.68,53.73 387.97,53.88 386.26,54.08 384.56,54.32 382.86,54.60 381.17,54.93 379.49,55.30 377.82,55.71 376.17,56.17 374.52,56.67 372.90,57.21 371.29,57.80 369.69,58.42 368.12,59.09 366.57,59.79 365.05,60.54 363.54,61.32 362.07,62.14 360.62,63.00 359.20,63.89 357.81,64.82 356.46,65.78 355.13,66.78 353.84,67.81 352.59,68.88 351.37,69.97 350.20,71.10 349.06,72.25 347.96,73.43 346.91,74.64 345.89,75.88 344.93,77.14 344.01,78.42 343.13,79.73 342.30,81.06 341.53,82.41 340.80,83.77 340.12,85.15 339.49,86.55 338.92,87.97 338.40,89.40 337.93,90.84 337.52,92.29 337.16,93.74 336.86,95.21 336.61,96.68 336.42,98.16 336.29,99.64 336.22,101.12" fill="#1a4cbc" />
<polygon points="390.11,96.88 428.77,125.07 429.92,123.89 431.03,122.69 432.09,121.46 433.10,120.20 434.06,118.93 434.97,117.63 435.83,116.30 436.64,114.97 437.39,113.61 438.09,112.24 438.73,110.85 439.31,109.45 439.85,108.05 440.32,106.63 440.74,105.21 441.10,103.78 441.40,102.34 441.65,100.91 441.83,99.47 441.97,98.04 442.04,96.60 442.06,95.18 442.02,93.75 441.92,92.34 441.77,90.93 441.56,89.54 441.29,88.16 440.98,86.79 440.60,85.43 440.18,84.09 439.70,82.77 439.16,81.47 438.58,80.19 437.95,78.93 437.26,77.69 436.53,76.48 435.75,75.29 434.93,74.12 434.05,72.99 433.14,71.88 432.17,70.81 431.17,69.76 430.13,68.75 429.04,67.76 427.92,66.81 426.76,65.90 425.56,65.02 424.33,64.17 423.06,63.37 421.77,62.59 420.44,61.86 419.08,61.17 417.70,60.51 416.29,59.89 414.85,59.32 413.39,58.78 411.91,58.29 410.40,57.83 408.88,57.42 407.34,57.05 405.79,56.72 404.22,56.43 402.64,56.19 401.04,55.99 399.44,55.83 397.83,55.72 396.21,55.65 394.58,55.62 392.96,55.63 391.33,55.69 389.70,55.79 388.07,55.93 386.44,56.12 384.82,56.35 383.21,56.62 381.60,56.93 380.00,57.28 378.41,57.68 376.83,58.11 375.27,58.59 373.72,59.11 372.18,59.66 370.67,60.26 369.17,60.89 367.70,61.56 366.24,62.27 364.81,63.02 363.41,63.80 362.03,64.62 360.68,65.47 359.36,66.36 358.07,67.28 356.81,68.23 355.58,69.21 354.39,70.22 353.24,71.27 352.12,72.34 351.04,73.44 349.99,74.57 348.99,75.72 348.03,76.89 347.11,78.09 346.24,79.32 345.41,80.56 344.63,81.83 343.89,83.11 343.20,84.41 342.55,85.73 341.96,87.06 341.42,88.40 340.93,89.76 340.48,91.13 340.10,92.51 339.76,93.90 339.48,95.29 339.25,96.69 339.07,98.10 338.95,99.50 338.88,100.91" fill="#1f9ebb" />
<polygon points="390.11,96.88 425.06,122.36 426.10,121.30 427.11,120.21 428.07,119.10 428.99,117.97 429.86,116.82 430.69,115.64 431.47,114.45 432.20,113.24 432.89,112.02 433.52,110.78 434.11,109.52 434.65,108.26 435.13,106.99 435.57,105.71 435.95,104.42 436.28,103.12 436.56,101.83 436.79,100.53 436.97,99.23 437.09,97.93 437.17,96.63 437.19,95.34 437.16,94.05 437.08,92.76 436.94,91.49 436.76,90.22 436.53,88.97 436.24,87.73 435.91,86.50 435.53,85.28 435.10,84.08 434.62,82.90 434.10,81.73 433.53,80.58 432.92,79.46 432.26,78.35 431.55,77.27 430.81,76.21 430.02,75.18 429.19,74.17 428.32,73.19 427.42,72.24 426.47,71.31 425.49,70.42 424.47,69.55 423.42,68.72 422.34,67.92 421.22,67.15 420.07,66.41 418.90,65.70 417.69,65.03 416.46,64.40 415.20,63.80 413.92,63.24 412.61,62.71 411.29,62.22 409.94,61.77 408.58,61.35 407.19,60.97 405.79,60.63 404.38,60.33 402.95,60.07 401.51,59.85 400.06,59.66 398.60,59.52 397.13,59.41 395.66,59.34 394.18,59.32 392.70,59.33 391.22,59.38 389.74,59.47 388.25,59.60 386.77,59.77 385.30,59.98 383.82,60.22 382.36,60.51 380.90,60.83 379.46,61.19 378.02,61.58 376.60,62.02 375.19,62.49 373.79,63.00 372.41,63.54 371.05,64.12 369.71,64.73 368.39,65.38 367.09,66.06 365.81,66.77 364.55,67.52 363.33,68.29 362.13,69.10 360.95,69.94 359.81,70.81 358.70,71.70 357.61,72.63 356.56,73.58 355.55,74.56 354.57,75.56 353.62,76.58 352.72,77.63 351.85,78.71 351.01,79.80 350.22,80.91 349.47,82.05 348.76,83.20 348.10,84.36 347.48,85.55 346.90,86.74 346.36,87.96 345.87,89.18 345.43,90.41 345.04,91.66 344.69,92.91 344.39,94.17 344.14,95.44 343.93,96.71 343.78,97.98 343.68,99.26 343.62,100.54" fill="#36aa9e" />
<polygon points="390.11,96.88 420.91,119.34 421.84,118.41 422.72,117.45 423.58,116.47 424.39,115.48 425.16,114.46 425.90,113.43 426.59,112.38 427.24,111.31 427.85,110.23 428.42,109.14 428.94,108.04 429.42,106.93 429.85,105.80 430.24,104.67 430.58,103.54 430.88,102.39 431.14,101.25 431.34,100.10 431.51,98.95 431.62,97.81 431.69,96.66 431.72,95.52 431.70,94.38 431.63,93.24 431.52,92.11 431.37,90.99 431.17,89.88 430.92,88.78 430.63,87.69 430.30,86.61 429.93,85.55 429.51,84.50 429.05,83.47 428.56,82.45 428.02,81.45 427.44,80.47 426.82,79.51 426.16,78.57 425.47,77.66 424.74,76.76 423.98,75.89 423.18,75.04 422.34,74.22 421.48,73.42 420.58,72.65 419.65,71.91 418.69,71.19 417.70,70.51 416.69,69.85 415.65,69.22 414.58,68.62 413.49,68.06 412.38,67.52 411.24,67.02 410.09,66.55 408.91,66.11 407.72,65.71 406.50,65.33 405.28,65.00 404.04,64.69 402.78,64.42 401.51,64.19 400.24,63.99 398.95,63.82 397.65,63.69 396.35,63.60 395.04,63.54 393.73,63.51 392.41,63.52 391.09,63.57 389.78,63.64 388.46,63.76 387.14,63.91 385.83,64.09 384.53,64.31 383.22,64.56 381.93,64.85 380.64,65.17 379.37,65.52 378.10,65.91 376.85,66.33 375.61,66.78 374.39,67.26 373.18,67.78 371.99,68.32 370.81,68.90 369.66,69.50 368.53,70.14 367.41,70.80 366.33,71.49 365.26,72.21 364.22,72.96 363.21,73.73 362.22,74.53 361.26,75.35 360.33,76.20 359.43,77.07 358.57,77.96 357.73,78.87 356.93,79.80 356.16,80.76 355.43,81.73 354.73,82.72 354.07,83.72 353.44,84.74 352.86,85.78 352.31,86.83 351.80,87.90 351.33,88.97 350.90,90.06 350.52,91.15 350.17,92.25 349.87,93.36 349.61,94.48 349.39,95.60 349.22,96.73 349.09,97.86 349.00,98.99 348.96,100.12" fill="#6cb46c" />
<polygon points="390.11,96.88 417.93,117.17 418.77,116.33 419.58,115.47 420.35,114.59 421.09,113.69 421.79,112.77 422.46,111.84 423.08,110.89 423.68,109.93 424.23,108.95 424.74,107.97 425.22,106.97 425.65,105.96 426.05,104.95 426.41,103.93 426.72,102.90 426.99,101.87 427.23,100.83 427.42,99.80 427.57,98.76 427.68,97.72 427.75,96.68 427.77,95.65 427.76,94.61 427.70,93.59 427.61,92.56 427.47,91.55 427.29,90.54 427.08,89.54 426.82,88.56 426.52,87.58 426.19,86.62 425.82,85.66 425.40,84.73 424.96,83.80 424.47,82.90 423.95,82.01 423.39,81.13 422.80,80.28 422.18,79.45 421.52,78.63 420.83,77.84 420.10,77.07 419.35,76.32 418.57,75.60 417.76,74.90 416.92,74.22 416.05,73.57 415.15,72.94 414.24,72.34 413.29,71.77 412.33,71.23 411.34,70.71 410.33,70.23 409.30,69.77 408.25,69.34 407.18,68.94 406.10,68.57 405.00,68.23 403.89,67.92 402.76,67.65 401.62,67.40 400.47,67.18 399.31,67.00 398.14,66.85 396.96,66.73 395.78,66.64 394.59,66.59 393.40,66.56 392.20,66.57 391.00,66.61 389.81,66.68 388.61,66.79 387.42,66.92 386.22,67.09 385.04,67.29 383.85,67.52 382.68,67.78 381.51,68.07 380.35,68.39 379.20,68.74 378.06,69.12 376.94,69.53 375.82,69.97 374.73,70.44 373.64,70.93 372.58,71.46 371.53,72.01 370.50,72.59 369.49,73.19 368.50,73.82 367.54,74.48 366.60,75.15 365.68,75.86 364.78,76.58 363.91,77.33 363.07,78.10 362.26,78.89 361.47,79.70 360.71,80.53 359.99,81.38 359.29,82.24 358.63,83.13 358.00,84.03 357.40,84.94 356.84,85.87 356.31,86.81 355.81,87.76 355.36,88.73 354.93,89.70 354.55,90.69 354.20,91.68 353.89,92.69 353.62,93.69 353.39,94.71 353.19,95.72 353.04,96.74 352.93,97.77 352.85,98.79 352.82,99.81" fill="#b0b42c" />
<polygon points="390.11,96.88 414.97,115.01 415.72,114.26 416.45,113.49 417.14,112.71 417.80,111.90 418.43,111.08 419.03,110.25 419.59,109.41 420.12,108.55 420.62,107.68 421.08,106.80 421.51,105.90 421.90,105.01 422.26,104.10 422.58,103.19 422.87,102.27 423.12,101.34 423.33,100.42 423.50,99.49 423.64,98.56 423.74,97.63 423.81,96.70 423.84,95.77 423.83,94.85 423.78,93.93 423.70,93.01 423.58,92.11 423.42,91.20 423.23,90.31 423.01,89.42 422.74,88.55 422.45,87.68 422.12,86.83 421.75,85.98 421.35,85.16 420.92,84.34 420.46,83.54 419.96,82.76 419.43,81.99 418.87,81.24 418.29,80.51 417.67,79.80 417.02,79.10 416.35,78.43 415.65,77.78 414.92,77.15 414.17,76.54 413.39,75.95 412.59,75.39 411.77,74.85 410.92,74.34 410.06,73.85 409.17,73.38 408.27,72.94 407.34,72.53 406.40,72.14 405.44,71.78 404.47,71.45 403.49,71.14 402.49,70.86 401.47,70.61 400.45,70.39 399.42,70.20 398.37,70.03 397.32,69.89 396.27,69.79 395.20,69.71 394.14,69.65 393.06,69.63 391.99,69.64 390.91,69.67 389.84,69.74 388.76,69.83 387.69,69.95 386.62,70.10 385.55,70.28 384.49,70.49 383.43,70.72 382.38,70.98 381.34,71.27 380.30,71.59 379.28,71.93 378.27,72.30 377.27,72.70 376.28,73.12 375.31,73.56 374.35,74.03 373.41,74.53 372.49,75.05 371.58,75.59 370.70,76.16 369.83,76.75 368.98,77.36 368.16,77.99 367.36,78.65 366.58,79.32 365.82,80.01 365.09,80.72 364.39,81.45 363.71,82.20 363.06,82.96 362.44,83.74 361.85,84.53 361.28,85.34 360.75,86.16 360.24,87.00 359.77,87.84 359.33,88.70 358.92,89.57 358.55,90.44 358.20,91.33 357.90,92.22 357.62,93.12 357.38,94.02 357.18,94.93 357.01,95.84 356.87,96.76 356.77,97.67 356.71,98.59 356.68,99.51" fill="#d4941a" />
<polygon points="390.11,96.88 411.80,112.70 412.46,112.05 413.09,111.38 413.70,110.69 414.28,109.99 414.83,109.28 415.35,108.55 415.85,107.82 416.31,107.07 416.75,106.31 417.16,105.54 417.53,104.76 417.88,103.98 418.20,103.19 418.48,102.39 418.73,101.59 418.95,100.78 419.14,99.97 419.30,99.16 419.42,98.35 419.51,97.54 419.57,96.72 419.60,95.91 419.59,95.11 419.56,94.30 419.49,93.50 419.39,92.70 419.26,91.91 419.09,91.13 418.90,90.35 418.67,89.59 418.41,88.83 418.13,88.08 417.81,87.34 417.46,86.61 417.09,85.90 416.69,85.20 416.25,84.51 415.80,83.84 415.31,83.18 414.80,82.54 414.26,81.91 413.70,81.30 413.11,80.71 412.50,80.14 411.86,79.58 411.20,79.05 410.52,78.53 409.82,78.04 409.10,77.56 408.36,77.11 407.61,76.68 406.83,76.27 406.04,75.88 405.23,75.52 404.40,75.18 403.56,74.86 402.71,74.57 401.85,74.30 400.97,74.05 400.08,73.83 399.18,73.63 398.28,73.46 397.36,73.31 396.44,73.19 395.51,73.10 394.58,73.03 393.64,72.98 392.70,72.96 391.76,72.96 390.82,73.00 389.87,73.05 388.93,73.13 387.98,73.24 387.04,73.37 386.10,73.53 385.17,73.71 384.24,73.91 383.32,74.14 382.41,74.40 381.50,74.67 380.60,74.98 379.71,75.30 378.84,75.65 377.97,76.02 377.12,76.41 376.28,76.83 375.45,77.26 374.64,77.72 373.85,78.20 373.07,78.70 372.31,79.21 371.57,79.75 370.85,80.31 370.14,80.88 369.46,81.47 368.80,82.08 368.16,82.70 367.55,83.34 366.95,84.00 366.39,84.67 365.84,85.35 365.32,86.05 364.83,86.76 364.36,87.48 363.93,88.21 363.51,88.96 363.13,89.71 362.77,90.47 362.45,91.24 362.15,92.01 361.88,92.80 361.65,93.58 361.44,94.38 361.26,95.17 361.12,95.97 361.00,96.77 360.92,97.58 360.87,98.38 360.85,99.18" fill="#d05c16" />
<polygon points="390.11,96.88 408.65,110.40 409.21,109.84 409.76,109.27 410.28,108.69 410.77,108.09 411.25,107.48 411.70,106.86 412.12,106.23 412.52,105.59 412.90,104.94 413.25,104.29 413.57,103.62 413.87,102.95 414.14,102.28 414.39,101.60 414.61,100.91 414.80,100.22 414.96,99.53 415.10,98.83 415.21,98.14 415.29,97.44 415.34,96.75 415.37,96.05 415.37,95.36 415.34,94.67 415.28,93.98 415.20,93.30 415.09,92.62 414.95,91.95 414.79,91.29 414.60,90.63 414.38,89.98 414.14,89.33 413.87,88.70 413.57,88.07 413.25,87.46 412.91,86.86 412.54,86.27 412.15,85.69 411.74,85.12 411.30,84.57 410.84,84.03 410.36,83.51 409.85,83.00 409.33,82.50 408.79,82.03 408.22,81.57 407.64,81.12 407.04,80.70 406.43,80.29 405.79,79.90 405.14,79.52 404.48,79.17 403.80,78.84 403.10,78.52 402.39,78.23 401.67,77.95 400.94,77.70 400.20,77.47 399.45,77.25 398.68,77.06 397.91,76.89 397.13,76.74 396.35,76.62 395.55,76.51 394.76,76.43 393.95,76.37 393.15,76.33 392.34,76.31 391.53,76.31 390.72,76.34 389.90,76.39 389.09,76.46 388.28,76.55 387.47,76.66 386.66,76.79 385.86,76.95 385.06,77.13 384.27,77.32 383.48,77.54 382.71,77.78 381.93,78.04 381.17,78.32 380.42,78.62 379.67,78.94 378.94,79.28 378.22,79.64 377.51,80.01 376.81,80.41 376.13,80.82 375.46,81.25 374.81,81.69 374.17,82.15 373.55,82.63 372.95,83.13 372.36,83.64 371.80,84.16 371.25,84.70 370.72,85.25 370.21,85.81 369.73,86.39 369.26,86.98 368.82,87.58 368.40,88.19 368.00,88.81 367.62,89.44 367.27,90.08 366.94,90.72 366.64,91.38 366.36,92.04 366.11,92.70 365.88,93.37 365.68,94.05 365.51,94.73 365.36,95.41 365.23,96.10 365.14,96.79 365.07,97.48 365.03,98.17 365.01,98.85" fill="#c9480f" />
<polygon points="390.11,96.88 403.29,106.49 403.69,106.10 404.08,105.69 404.45,105.28 404.80,104.85 405.14,104.42 405.47,103.98 405.77,103.53 406.06,103.08 406.33,102.62 406.58,102.15 406.81,101.68 407.03,101.21 407.23,100.72 407.40,100.24 407.56,99.75 407.70,99.26 407.82,98.77 407.92,98.27 408.00,97.78 408.07,97.28 408.11,96.79 408.13,96.29 408.13,95.80 408.12,95.30 408.08,94.81 408.02,94.32 407.95,93.84 407.85,93.36 407.74,92.88 407.61,92.41 407.45,91.95 407.28,91.49 407.10,91.03 406.89,90.58 406.66,90.14 406.42,89.71 406.16,89.29 405.88,88.87 405.59,88.46 405.28,88.07 404.95,87.68 404.61,87.30 404.25,86.94 403.88,86.58 403.49,86.24 403.09,85.91 402.68,85.59 402.25,85.28 401.81,84.98 401.35,84.70 400.89,84.43 400.41,84.18 399.93,83.94 399.43,83.71 398.92,83.50 398.41,83.30 397.88,83.11 397.35,82.94 396.81,82.79 396.26,82.65 395.71,82.53 395.15,82.42 394.59,82.33 394.02,82.25 393.45,82.19 392.87,82.15 392.29,82.12 391.71,82.10 391.13,82.10 390.54,82.12 389.96,82.16 389.38,82.21 388.79,82.27 388.21,82.35 387.63,82.45 387.06,82.56 386.48,82.69 385.91,82.83 385.35,82.99 384.79,83.16 384.23,83.35 383.69,83.55 383.14,83.76 382.61,83.99 382.08,84.24 381.57,84.49 381.06,84.77 380.56,85.05 380.07,85.35 379.59,85.65 379.12,85.98 378.67,86.31 378.22,86.65 377.79,87.01 377.37,87.38 376.97,87.75 376.58,88.14 376.20,88.54 375.84,88.94 375.49,89.36 375.16,89.78 374.84,90.21 374.54,90.65 374.26,91.09 373.99,91.55 373.74,92.00 373.51,92.47 373.30,92.94 373.10,93.41 372.92,93.89 372.76,94.37 372.62,94.86 372.50,95.34 372.40,95.83 372.31,96.32 372.25,96.81 372.20,97.31 372.17,97.80 372.17,98.29" fill="#c5420d" />
</g>
<polyline points="435.32,129.84 436.67,128.47 437.95,127.05 439.19,125.61 440.36,124.14 441.47,122.64 442.53,121.12 443.52,119.57 444.45,118.00 445.32,116.41 446.12,114.81 446.86,113.19 447.53,111.55 448.14,109.91 448.68,108.25 449.15,106.59 449.56,104.92 449.90,103.25 450.17,101.57 450.38,99.90 450.52,98.23 450.59,96.56 450.60,94.90 450.54,93.24 450.41,91.60 450.22,89.96 449.96,88.34 449.64,86.73 449.26,85.14 448.81,83.57 448.30,82.02 447.73,80.49 447.10,78.98 446.41,77.49 445.66,76.03 444.85,74.60 443.99,73.20 443.07,71.82 442.10,70.48 441.08,69.17 440.01,67.89 438.88,66.65 437.71,65.44 436.49,64.27 435.22,63.14 433.91,62.05 432.56,60.99 431.17,59.98 429.73,59.01 428.26,58.08 426.76,57.19 425.21,56.35 423.64,55.55 422.03,54.80 420.39,54.09 418.73,53.43 417.03,52.82 415.32,52.25 413.57,51.73 411.81,51.26 410.03,50.84 408.23,50.46 406.42,50.13 404.59,49.86 402.74,49.63 400.89,49.45 399.03,49.32 397.16,49.24 395.28,49.21 393.40,49.23 391.52,49.30 389.64,49.42 387.75,49.58 385.88,49.80 384.00,50.06 382.14,50.37 380.28,50.73 378.43,51.14 376.59,51.60 374.77,52.10 372.96,52.65 371.17,53.24 369.40,53.89 367.65,54.57 365.92,55.30 364.22,56.07 362.53,56.89 360.88,57.75 359.25,58.65 357.66,59.59 356.10,60.57 354.56,61.59 353.07,62.65 351.61,63.75 350.19,64.88 348.80,66.05 347.46,67.25 346.16,68.49 344.90,69.76 343.69,71.06 342.52,72.39 341.40,73.75 340.33,75.13 339.31,76.54 338.34,77.98 337.43,79.44 336.56,80.93 335.75,82.43 335.00,83.95 334.30,85.49 333.66,87.05 333.07,88.63 332.55,90.21 332.09,91.81 331.68,93.42 331.34,95.04 331.06,96.66 330.85,98.29 330.69,99.93 330.60,101.56" fill="none" stroke="#15607a" stroke-width="0.5" />
</g>
<text x="274.2" y="19.4" font-size="19.5" fill="#111">b)</text>
<text x="332.7" y="15.3" font-size="7.9" fill="#222" stroke="#222" stroke-width="0.18">Time=1800s Suface: Concentration (mol/m<tspan font-size="5" dy="-3">3</tspan><tspan dy="3">)</tspan></text>
<rect x="518.5" y="20.8" width="5.3" height="175.2" fill="url(#cbar)"/>
<text x="526" y="40.2" font-size="8" fill="#333" stroke="#333" stroke-width="0.18">65</text>
<text x="526" y="68.5" font-size="8" fill="#333" stroke="#333" stroke-width="0.18">60</text>
<text x="526" y="97.3" font-size="8" fill="#333" stroke="#333" stroke-width="0.18">55</text>
<text x="526" y="126.6" font-size="8" fill="#333" stroke="#333" stroke-width="0.18">50</text>
<text x="526" y="155.8" font-size="8" fill="#333" stroke="#333" stroke-width="0.18">45</text>
<text x="526" y="185.0" font-size="8" fill="#333" stroke="#333" stroke-width="0.18">40</text>
<text x="271.8" y="180.9" font-size="7.9" fill="#3a3a3a" stroke="#3a3a3a" stroke-width="0.18">Unit: mm</text>
<text x="325.0" y="81.7" font-size="7.9" text-anchor="middle" fill="#333" stroke="#333" stroke-width="0.18">-50</text>
<text x="344.0" y="63.2" font-size="7.9" text-anchor="middle" fill="#333" stroke="#333" stroke-width="0.18">0</text>
<text x="364.0" y="46.7" font-size="7.9" text-anchor="middle" fill="#333" stroke="#333" stroke-width="0.18">50</text>
<text x="380.5" y="30.2" font-size="7.9" text-anchor="middle" fill="#333" stroke="#333" stroke-width="0.18">100</text>
<text x="395.8" y="29.0" font-size="7.9" text-anchor="middle" fill="#333" stroke="#333" stroke-width="0.18">100</text>
<text x="416.0" y="42.2" font-size="7.9" text-anchor="middle" fill="#333" stroke="#333" stroke-width="0.18">50</text>
<text x="435.3" y="55.1" font-size="7.9" text-anchor="middle" fill="#333" stroke="#333" stroke-width="0.18">0</text>
<text x="455.9" y="68.3" font-size="7.9" text-anchor="middle" fill="#333" stroke="#333" stroke-width="0.18">-50</text>
<text x="477.4" y="82.7" font-size="7.9" text-anchor="middle" fill="#333" stroke="#333" stroke-width="0.18">-100</text>
<text x="311.4" y="102.0" font-size="7.9" text-anchor="middle" fill="#333" stroke="#333" stroke-width="0.18">100</text>
<text x="319.3" y="120.3" font-size="7.9" text-anchor="middle" fill="#333" stroke="#333" stroke-width="0.18">50</text>
<text x="325.0" y="133.7" font-size="7.9" text-anchor="middle" fill="#333" stroke="#333" stroke-width="0.18">0</text>
<g stroke-linecap="round">
<line x1="281.9" y1="196.9" x2="274.2" y2="194.4" stroke="#3cb43c" stroke-width="1.1"/>
<path d="M273.6,194.2 L276.6,193.9 L276.0,195.9 Z" fill="#3cb43c"/>
<line x1="281.9" y1="196.9" x2="282.3" y2="191.2" stroke="#5a8ee0" stroke-width="1.1"/>
<path d="M282.3,190.4 L283.4,193.0 L281.3,193.0 Z" fill="#5a8ee0"/>
<line x1="281.9" y1="196.9" x2="286.0" y2="192.6" stroke="#e8385a" stroke-width="1.1"/>
<path d="M286.5,192.0 L285.9,194.6 L284.3,193.2 Z" fill="#e8385a"/>
</g>
<text x="271.8" y="191.4" font-size="8" fill="#555" stroke="#555" stroke-width="0.18">y</text>
<text x="280.7" y="188.7" font-size="8" fill="#555" stroke="#555" stroke-width="0.18">z</text>
<text x="286.8" y="190.6" font-size="8" fill="#555" stroke="#555" stroke-width="0.18">x</text>
</svg></body></html>
